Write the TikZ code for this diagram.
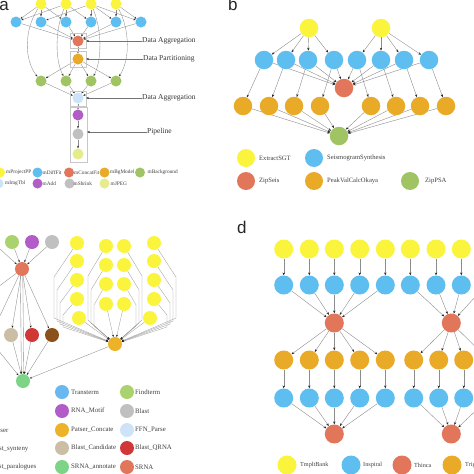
\documentclass[tikz,border=0pt]{standalone}
\usepackage{fontspec}
\setmainfont{Liberation Serif}
\setsansfont{Liberation Sans}
\usetikzlibrary{arrows.meta}
\pgfdeclarelayer{bg}
\pgfsetlayers{bg,main}
\definecolor{cYel}{RGB}{250,245,60}
\definecolor{cBlu}{RGB}{95,190,240}
\definecolor{cRed}{RGB}{226,118,90}
\definecolor{cOra}{RGB}{233,170,40}
\definecolor{cGrn}{RGB}{160,196,100}
\definecolor{cLbl}{RGB}{205,228,248}
\definecolor{cPur}{RGB}{178,92,200}
\definecolor{cGry}{RGB}{192,192,192}
\definecolor{cLyl}{RGB}{228,236,140}
\definecolor{cMint}{RGB}{125,212,135}
\definecolor{cBei}{RGB}{203,190,165}
\definecolor{cQrn}{RGB}{210,55,55}
\definecolor{cBrn}{RGB}{140,80,25}
\definecolor{cGld}{RGB}{236,178,40}
\definecolor{cTbl}{RGB}{105,185,240}
\definecolor{cFgr}{RGB}{170,210,110}
\definecolor{cEdge}{RGB}{140,140,140}
\begin{document}
\begin{tikzpicture}[x=1pt,y=-1pt,
  na/.style={circle,inner sep=0pt,minimum size=11pt},
  nb/.style={circle,inner sep=0pt,minimum size=18.5pt},
  nc/.style={circle,inner sep=0pt,minimum size=14pt},
  ndd/.style={circle,inner sep=0pt,minimum size=19pt},
  lga/.style={circle,inner sep=0pt,minimum size=10pt},
  abox/.style={rectangle,draw=black!22,line width=0.45pt,inner sep=0pt},
  ed/.style={draw=cEdge,line width=0.35pt,-{Stealth[length=2.3pt,width=1.9pt,color=black!85]}},
  edc/.style={draw=black!40,line width=0.3pt,-{Stealth[length=2.3pt,width=1.9pt,color=black!85]}},
  edb/.style={draw=cEdge,line width=0.4pt,-{Stealth[length=2.8pt,width=2.3pt,color=black!85]}},
  ann/.style={draw=black!55,line width=0.45pt,-{Stealth[length=2.6pt,width=2.2pt,color=black!80]}},
  ta/.style={font=\fontsize{5.3}{6}\selectfont,text=black!75,inner sep=0pt,anchor=west},
  tA/.style={font=\fontsize{7.5}{8}\selectfont,text=black!80,inner sep=0pt,anchor=west},
  tb/.style={font=\fontsize{6.6}{7}\selectfont,text=black!75,inner sep=0pt,anchor=west},
  tc/.style={font=\fontsize{6.8}{7}\selectfont,text=black!75,inner sep=0pt,anchor=west},
  td/.style={font=\fontsize{6.2}{7}\selectfont,text=black!75,inner sep=0pt,anchor=west},
  plab/.style={font=\sffamily\fontsize{17}{18}\selectfont,text=black!85,inner sep=0pt}
]
\useasboundingbox (0,0) rectangle (474,474);
\begin{pgfonlayer}{bg}
\fill[white] (0,0) rectangle (474,474);
\end{pgfonlayer}

% ---------------- panel labels
\node[plab,anchor=base east] (labA) at (9,10) {a};
\node[plab,anchor=base west] (labB) at (228,10) {b};
\node[plab,anchor=base west] (labD) at (237,233) {d};

% ================= PANEL A (Montage)
\foreach \x [count=\i] in {41,66,91,116} {
  \node[na,fill=cYel] (aY\i) at (\x,4) {};
  \node[na,fill=cGrn] (aG\i) at (\x,81) {};
}
\foreach \x [count=\i] in {16,41,66,91,116,141} {
  \node[na,fill=cBlu] (aB\i) at (\x,22) {};
}
\node[na,fill=cRed] (aR) at (78,41) {};
\node[na,fill=cOra] (aO) at (78,59) {};
\node[na,fill=cLbl] (aL) at (78,98) {};
\node[na,fill=cPur] (aP) at (78,115) {};
\node[na,fill=cGry] (aS) at (78,134) {};
\node[na,fill=cLyl] (aJ) at (78,154) {};
\node[abox,minimum width=16pt,minimum height=15pt] (aBx1) at (78,40.5) {};
\node[abox,minimum width=16pt,minimum height=16pt] (aBx2) at (78,59) {};
\node[abox,minimum width=16pt,minimum height=15pt] (aBx3) at (78,98.5) {};
\node[abox,minimum width=17pt,minimum height=55pt] (aBx4) at (78.5,134.5) {};

\node[tA] (aT1) at (142,41) {Data Aggregation};
\node[tA] (aT2) at (143,59) {Data Partitioning};
\node[tA] (aT3) at (142,98) {Data Aggregation};
\node[tA] (aT4) at (147,132) {Pipeline};
\draw[ann] (aT1.west) -- (aBx1.east |- aT1.west);
\draw[ann] (aT2.west) -- (aBx2.east |- aT2.west);
\draw[ann] (aT3.west) -- (aBx3.east |- aT3.west);
\draw[ann] (aT4.west) -- (aBx4.east |- aT4.west);

\begin{pgfonlayer}{bg}
\draw[ed] (aY1) -- (aB1); \draw[ed] (aY1) -- (aB2); \draw[ed] (aY1) -- (aB3);
\draw[ed] (aY2) -- (aB1); \draw[ed] (aY2) -- (aB3); \draw[ed] (aY2) -- (aB4);
\draw[ed] (aY3) -- (aB2); \draw[ed] (aY3) -- (aB4); \draw[ed] (aY3) -- (aB5);
\draw[ed] (aY4) -- (aB5); \draw[ed] (aY4) -- (aB6); \draw[ed] (aY3) -- (aB6);
\foreach \i in {1,...,6} \draw[ed] (aB\i) -- (aR);
\draw[ed] (aY1) .. controls (24,30) and (24,60) .. (aG1);
\draw[ed] (aY2) .. controls (55,30) and (55,60) .. (aG2);
\draw[ed] (aY3) .. controls (102,30) and (102,60) .. (aG3);
\draw[ed] (aY4) .. controls (130,30) and (130,60) .. (aG4);
\draw[ed] (aR) -- (aO);
\foreach \i in {1,...,4} { \draw[ed] (aO) -- (aG\i); \draw[ed] (aG\i) -- (aL); }
\draw[ed] (aL) -- (aP);
\draw[ed] (aP) -- (aS);
\draw[ed] (aS) -- (aJ);
\end{pgfonlayer}

% legend a
\node[lga,fill=cYel] (alg1) at (0,172.5) {};
\node[ta] (alt1) at (6,172.5) {mProjectPP};
\node[lga,fill=cBlu] (alg2) at (37.5,172.5) {};
\node[ta] (alt2) at (42.5,172.5) {mDiffFit};
\node[lga,fill=cRed] (alg3) at (69,172.5) {};
\node[ta] (alt3) at (74,172.5) {mConcatFit};
\node[lga,fill=cOra] (alg4) at (104.5,172.5) {};
\node[ta] (alt4) at (110,172.5) {mBgModel};
\node[lga,fill=cGrn] (alg5) at (140,172.5) {};
\node[ta] (alt5) at (147.5,172.5) {mBackground};
\node[lga,fill=cLbl] (alg6) at (-1.5,183.5) {};
\node[ta] (alt6) at (5,183.5) {mImgTbl};
\node[lga,fill=cPur] (alg7) at (37.5,183.5) {};
\node[ta] (alt7) at (42.5,183.5) {mAdd};
\node[lga,fill=cGry] (alg8) at (69.5,183.5) {};
\node[ta] (alt8) at (73.5,183.5) {mShrink};
\node[lga,fill=cLyl] (alg9) at (104.5,183.5) {};
\node[ta] (alt9) at (110.5,183.5) {mJPEG};

% ================= PANEL B (CyberShake)
\node[nb,fill=cYel] (bY1) at (309,28) {};
\node[nb,fill=cYel] (bY2) at (381,28) {};
\foreach \x [count=\i] in {264,286,308,334,357,381,404,429} {
  \node[nb,fill=cBlu] (bB\i) at (\x,60) {};
}
\foreach \x [count=\i] in {243,269,294,320,371,396,420,446} {
  \node[nb,fill=cOra] (bO\i) at (\x,106) {};
}
\node[nb,fill=cRed] (bR) at (344,88) {};
\node[nb,fill=cGrn] (bG) at (339,136) {};
\begin{pgfonlayer}{bg}
\foreach \i in {1,...,4} \draw[edb] (bY1) -- (bB\i);
\foreach \i in {5,...,8} \draw[edb] (bY2) -- (bB\i);
\foreach \i in {1,...,8} {
  \draw[edb] (bB\i) -- (bR);
  \draw[edb] (bB\i) -- (bO\i);
  \draw[edb] (bO\i) -- (bG);
}
\end{pgfonlayer}
% legend b
\node[nb,minimum size=18pt,fill=cYel] (blg1) at (246,158) {};
\node[tb] (blt1) at (259,158) {ExtractSGT};
\node[nb,minimum size=18pt,fill=cBlu] (blg2) at (314,158) {};
\node[tb] (blt2) at (327,158) {SeismogramSynthesis};
\node[nb,minimum size=18pt,fill=cRed] (blg3) at (246,181) {};
\node[tb] (blt3) at (259,181) {ZipSeis};
\node[nb,minimum size=18pt,fill=cOra] (blg4) at (314,181) {};
\node[tb] (blt4) at (327,181) {PeakValCalcOkaya};
\node[nb,minimum size=18pt,fill=cGrn] (blg5) at (410,181) {};
\node[tb] (blt5) at (425,181) {ZipPSA};

% ================= PANEL C (SIPHT)
\node[nc,fill=cFgr] (cF) at (12,242) {};
\node[nc,fill=cPur] (cM) at (32,242) {};
\node[nc,fill=cGry] (cB) at (52,242) {};
\node[nc,fill=cRed] (cS) at (22,269) {};
\node[nc,fill=cBei] (cBC) at (11,335) {};
\node[nc,fill=cQrn] (cQ) at (32,335) {};
\node[nc,fill=cBrn] (cBr) at (52,335) {};
\node[nc,fill=cMint] (cA) at (23,381) {};
\node[nc,fill=cGld] (cP) at (115,344) {};
\coordinate (cOffA) at (-10,240);
\coordinate (cOffB) at (-10,293);
\coordinate (cOffC) at (-10,337);
\coordinate (cOffD) at (-10,340);
% yellow columns
\node[nc,fill=cYel] (cY11) at (77,243) {};
\node[nc,fill=cYel] (cY12) at (77,261) {};
\node[nc,fill=cYel] (cY13) at (77,280) {};
\node[nc,fill=cYel] (cY14) at (77,299) {};
\node[nc,fill=cYel] (cY15) at (79,318) {};
\node[nc,fill=cYel] (cY21) at (106,246) {};
\node[nc,fill=cYel] (cY22) at (106,265) {};
\node[nc,fill=cYel] (cY23) at (106,284) {};
\node[nc,fill=cYel] (cY24) at (106,304) {};
\node[nc,fill=cYel] (cY31) at (124,246) {};
\node[nc,fill=cYel] (cY32) at (124,265) {};
\node[nc,fill=cYel] (cY33) at (124,284) {};
\node[nc,fill=cYel] (cY34) at (124,304) {};
\node[nc,fill=cYel] (cY41) at (154,243) {};
\node[nc,fill=cYel] (cY42) at (154,261) {};
\node[nc,fill=cYel] (cY43) at (154,280) {};
\node[nc,fill=cYel] (cY44) at (154,299) {};
\node[nc,fill=cYel] (cY45) at (150,318) {};
\begin{pgfonlayer}{bg}
\draw[ed] (cF) -- (cS); \draw[ed] (cM) -- (cS); \draw[ed] (cB) -- (cS);
\draw[ed] (cOffA) -- (cS);
\draw[draw=cEdge,line width=0.35pt] (cS) -- (cOffB);
\draw[draw=cEdge,line width=0.35pt] (cS) -- (cOffC);
\draw[ed] (cS) -- (cBC); \draw[ed] (cS) -- (cQ); \draw[ed] (cS) -- (cBr);
\draw[ed] ([xshift=-1.6pt]cS.south) -- ([xshift=-1.6pt]cA.north);
\draw[ed] ([xshift=0.8pt]cS.south) -- ([xshift=0.8pt]cA.north);
\draw[ed] (cBC) -- (cA); \draw[ed] (cQ) -- (cA); \draw[ed] (cBr) -- (cA);
\draw[ed] (cOffD) -- (cA);
\draw[ed] (cP) -- (cA);
% bundles into Patser_Concate
\draw[edc] (cY11) -- (54,277) -- (54,318) -- (cP);
\draw[edc] (cY12) -- (57,290) -- (57,321) -- (cP);
\draw[edc] (cY13) -- (60,303) -- (60,324) -- (cP);
\draw[edc] (cY14) -- (63,315) -- (63,327) -- (cP);
\draw[edc] (cY15) -- (cP);
\draw[edc] (cY21) -- (88,276) -- (88,320) -- (cP);
\draw[edc] (cY22) -- (91,290) -- (91,323) -- (cP);
\draw[edc] (cY23) -- (94,305) -- (94,326) -- (cP);
\draw[edc] (cY24) -- (cP);
\draw[edc] (cY31) -- (142,276) -- (142,320) -- (cP);
\draw[edc] (cY32) -- (139,290) -- (139,323) -- (cP);
\draw[edc] (cY33) -- (136,305) -- (136,326) -- (cP);
\draw[edc] (cY34) -- (cP);
\draw[edc] (cY41) -- (176,277) -- (176,318) -- (cP);
\draw[edc] (cY42) -- (173,290) -- (173,321) -- (cP);
\draw[edc] (cY43) -- (170,303) -- (170,324) -- (cP);
\draw[edc] (cY44) -- (167,315) -- (167,327) -- (cP);
\draw[edc] (cY45) -- (cP);
\end{pgfonlayer}
% legend c
\node[tc,anchor=east] (clt1) at (8.5,430) {Patser};
\node[tc,anchor=east] (clt2) at (28.5,449) {Blast\_synteny};
\node[tc,anchor=east] (clt3) at (36.5,467) {Blast\_paralogues};
\node[nc,fill=cTbl] (clg1) at (62,392) {};
\node[tc] (clt4) at (71,392) {Transterm};
\node[nc,fill=cPur] (clg2) at (62,411) {};
\node[tc] (clt5) at (71,411) {RNA\_Motif};
\node[nc,fill=cGld] (clg3) at (62,430) {};
\node[tc] (clt6) at (71,430) {Patser\_Concate};
\node[nc,fill=cBei] (clg4) at (62,448) {};
\node[tc] (clt7) at (71,448) {Blast\_Candidate};
\node[nc,fill=cMint] (clg5) at (62,467) {};
\node[tc] (clt8) at (71,467) {SRNA\_annotate};
\node[nc,fill=cFgr] (clg6) at (127,392) {};
\node[tc] (clt9) at (135,392) {Findterm};
\node[nc,fill=cGry] (clg7) at (127,411) {};
\node[tc] (clt10) at (135,411) {Blast};
\node[nc,fill=cLbl] (clg8) at (127,430) {};
\node[tc] (clt11) at (135,430) {FFN\_Parse};
\node[nc,fill=cQrn] (clg9) at (127,448) {};
\node[tc] (clt12) at (135,448) {Blast\_QRNA};
\node[nc,fill=cRed] (clg10) at (127,467) {};
\node[tc] (clt13) at (135,467) {SRNA};

% ================= PANEL D (LIGO)
\foreach \x [count=\i] in {283.7,309.3,334.3,359.7,385.3,410.3,436,461.3} {
  \node[ndd,fill=cYel] (dY\i) at (\x,249) {};
  \node[ndd,fill=cBlu] (dB\i) at (\x,285) {};
}
\foreach \x [count=\i] in {283.7,309.3,334.3,359.7,385.3,413.7,438.7,463.7} {
  \node[ndd,fill=cOra] (dO\i) at (\x,360) {};
  \node[ndd,fill=cBlu] (dC\i) at (\x,398) {};
}
\node[ndd,fill=cRed] (dR1) at (334.3,323) {};
\node[ndd,fill=cRed] (dR2) at (451.3,323) {};
\node[ndd,fill=cRed] (dT1) at (334.3,434) {};
\node[ndd,fill=cRed] (dT2) at (451.3,434) {};
\coordinate (dOffB) at (486,285);
\coordinate (dOffO) at (489,360);
\coordinate (dOffC) at (489,398);
\begin{pgfonlayer}{bg}
\foreach \i in {1,...,8} {
  \draw[edb] (dY\i) -- (dB\i);
  \draw[edb] (dO\i) -- (dC\i);
}
\foreach \i in {1,...,5} {
  \draw[edb] (dB\i) -- (dR1);
  \draw[edb] (dR1) -- (dO\i);
  \draw[edb] (dC\i) -- (dT1);
}
\foreach \i in {6,7,8} {
  \draw[edb] (dB\i) -- (dR2);
  \draw[edb] (dR2) -- (dO\i);
  \draw[edb] (dC\i) -- (dT2);
}
\draw[edb] (dOffB) -- (dR2);
\draw[edb] (dR2) -- (dOffO);
\draw[edb] (dOffC) -- (dT2);
\end{pgfonlayer}
% legend d
\node[ndd,fill=cYel] (dlg1) at (287,465) {};
\node[td] (dlt1) at (300,465) {TmpltBank};
\node[ndd,fill=cBlu] (dlg2) at (351,465) {};
\node[td] (dlt2) at (363,465) {Inspiral};
\node[ndd,fill=cRed] (dlg3) at (402,465) {};
\node[td] (dlt3) at (414,465) {Thinca};
\node[ndd,fill=cOra] (dlg4) at (452,465) {};
\node[td] (dlt4) at (465,465) {TrigBank};
\end{tikzpicture}
\end{document}
